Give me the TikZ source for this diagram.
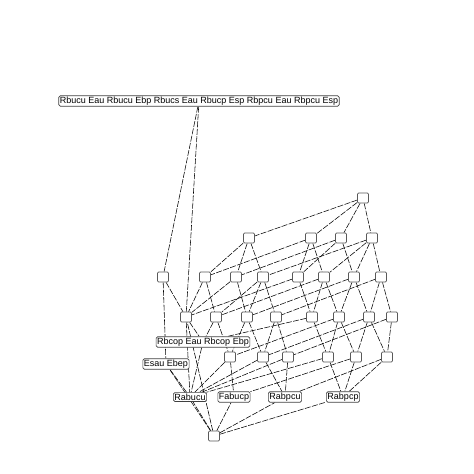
\documentclass[tikz,border=0pt]{standalone}
\usepackage{fontspec}
\setmainfont{Liberation Sans}
\usetikzlibrary{backgrounds}
\begin{document}
\begin{tikzpicture}[x=1pt,y=-1pt,
  cn/.style={draw=black!65,fill=white,rounded corners=1.2pt,minimum width=11pt,minimum height=10pt,inner sep=0pt,line width=0.7pt},
  lab/.style={draw=black!75,fill=white,rounded corners=1.5pt,inner sep=1.1pt,font=\fontsize{9}{10}\selectfont,line width=0.7pt},
  ed/.style={black,line width=0.55pt,dash pattern=on 6pt off 1.4pt}]
\useasboundingbox (0,0) rectangle (474,474);
% nodes
\node[cn] (T) at (363,198) {};
\node[cn] (a1) at (249,238) {};
\node[cn] (a2) at (311,238) {};
\node[cn] (a3) at (341,238) {};
\node[cn] (a4) at (372,238) {};
\node[cn] (L) at (163,277) {};
\node[cn] (b1) at (205,277) {};
\node[cn] (b2) at (236,277) {};
\node[cn] (b3) at (263,277) {};
\node[cn] (b4) at (298,277) {};
\node[cn] (b5) at (324,277) {};
\node[cn] (b6) at (354,277) {};
\node[cn] (b7) at (381,277) {};
\node[cn] (c1) at (186,317) {};
\node[cn] (c2) at (216,317) {};
\node[cn] (c3) at (247,317) {};
\node[cn] (c4) at (276,317) {};
\node[cn] (c5) at (312,317) {};
\node[cn] (c6) at (339,317) {};
\node[cn] (c7) at (369,317) {};
\node[cn] (c8) at (392,317) {};
\node[cn] (d1) at (230,357) {};
\node[cn] (d2) at (263,357) {};
\node[cn] (d3) at (288,357) {};
\node[cn] (d4) at (328,357) {};
\node[cn] (d5) at (356,357) {};
\node[cn] (d6) at (387,357) {};
\node[cn] (B) at (214,436) {};
\node[lab] (TL) at (199,101) {Rbucu Eau Rbucu Ebp Rbucs Eau Rbucp Esp Rbpcu Eau Rbpcu Esp};
\node[lab] (l1) at (203,342) {Rbcop Eau Rbcop Ebp};
\node[lab] (l2) at (166,364) {Esau Ebep};
\node[lab] (e1) at (190,397) {Rabucu};
\node[lab] (e2) at (234,397) {Fabucp};
\node[lab] (e3) at (285,397) {Rabpcu};
\node[lab] (e4) at (343,397) {Rabpcp};
% edges
\begin{scope}[on background layer]
\foreach \u/\v in {TL/L,TL/c1,
  T/a1,T/a2,T/a3,T/a4,
  a1/b1,a1/b2,a1/b3,
  a2/b1,a2/b4,a2/b5,
  a3/b2,a3/b4,a3/b6,
  a4/b3,a4/b5,a4/b6,a4/b7,
  L/c1,L/l2,
  b1/c1,b1/c2,b2/c1,b2/c3,b3/c2,b3/c3,b3/c4,
  b4/c1,b5/c2,b6/c3,b7/c4,
  b4/c5,b5/c5,b5/c6,b6/c6,b6/c7,b7/c7,b7/c8,
  c1/l1,c2/l1,c2/d1,c3/d1,c3/d2,c4/d2,c4/d3,
  c5/l1,c6/d1,c7/d2,c8/d3,
  c5/d4,c6/d4,c6/d5,c7/d5,c7/d6,c8/d6,
  d4/e4,d5/e4,d6/e4,
  d4/e1,d5/e2,d6/e3,
  l1/e1,d1/e1,d1/e2,d2/e1,d2/e3,d3/e3,d3/e1,
  l2/e1,c1/e1,
  B/l2,B/e1,B/c1,B/e2,B/e3,B/e4}
  \draw[ed] (\u) -- (\v);
\end{scope}
\end{tikzpicture}
\end{document}
